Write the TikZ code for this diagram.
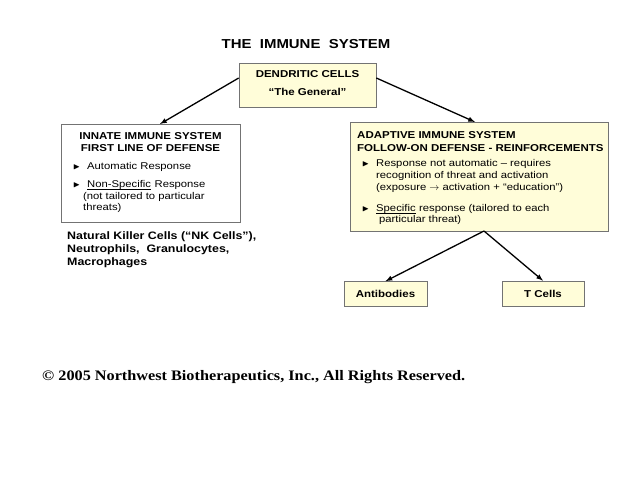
\documentclass[tikz,border=0pt]{standalone}
\usepackage{amssymb}
\usepackage{fontspec}
\setmainfont{Liberation Sans}[FakeStretch=1.15]
\newfontfamily\serifcr{Liberation Serif}[FakeStretch=1.12]
\begin{document}
\begin{tikzpicture}[x=1pt,y=-1pt,
  box/.style={draw=black!55,line width=0.6pt,inner sep=0pt},
  yel/.style={box,fill=yellow!15},
  hd/.style={font=\fontsize{10}{12}\selectfont\bfseries,inner sep=0pt,anchor=base west},
  tx/.style={font=\fontsize{9.8}{12}\selectfont,inner sep=0pt,anchor=base west},
  nk/.style={font=\fontsize{10.8}{12}\selectfont\bfseries,inner sep=0pt,anchor=base west},
  bul/.style={font=\fontsize{9}{10}\selectfont,inner sep=0pt,anchor=base west},
  ul/.style={line width=0.5pt},
  arr/.style={-latex,line width=1.3pt}]
\useasboundingbox (0,0) rectangle (638,478);
\node[font=\fontsize{13}{14}\selectfont\bfseries] (title) at (306,44) {THE\ \ IMMUNE\ \ SYSTEM};
% Dendritic
\node[yel,minimum width=137,minimum height=44] (dc) at (307.5,85) {};
\node[hd,anchor=center] (dct) at (307.5,74) {DENDRITIC CELLS};
\node[hd,anchor=center] (dcs) at (307.5,92) {``The General''};
% Innate
\node[box,fill=white,minimum width=179,minimum height=98] (inn) at (150.5,173) {};
\node[hd,anchor=base] (innt1) at (150.5,140) {INNATE IMMUNE SYSTEM};
\node[hd,anchor=base] (innt2) at (150.5,152) {FIRST LINE OF DEFENSE};
\node[bul] (b1) at (73,169.5) {$\blacktriangleright$};
\node[tx] (inn1) at (87,169.5) {Automatic Response};
\node[bul] (b2) at (73,187.5) {$\blacktriangleright$};
\node[tx] (ns) at (87,187.5) {Non-Specific};
\node[tx,anchor=base west] (inn2) at (ns.base east) {\ Response};
\draw[ul] ([yshift=-1.6pt]ns.base west) -- ([yshift=-1.6pt]ns.base east);
\node[tx] (inn3) at (83,199.5) {(not tailored to particular};
\node[tx] (inn4) at (83,211) {threats)};
\node[nk] (nk1) at (67,239.5) {Natural Killer Cells (``NK Cells''),};
\node[nk] (nk2) at (67,252.5) {Neutrophils,\ \ Granulocytes,};
\node[nk] (nk3) at (67,265.5) {Macrophages};
% Adaptive
\node[yel,minimum width=258,minimum height=109] (ad) at (479,176.5) {};
\node[hd] (adt1) at (357,139) {ADAPTIVE IMMUNE SYSTEM};
\node[hd] (adt2) at (357,152) {FOLLOW-ON DEFENSE - REINFORCEMENTS};
\node[bul] (b3) at (362,166.5) {$\blacktriangleright$};
\node[tx] (ad1) at (376,166.5) {Response not automatic -- requires};
\node[tx] (ad2) at (376,178.5) {recognition of threat and activation};
\node[tx] (ad3) at (376,190.5) {(exposure $\rightarrow$ activation + ``education'')};
\node[bul] (b4) at (362,211.5) {$\blacktriangleright$};
\node[tx] (sp) at (376,211.5) {Specific};
\node[tx,anchor=base west] (ad4) at (sp.base east) {\ response (tailored to each};
\draw[ul] ([yshift=-1.6pt]sp.base west) -- ([yshift=-1.6pt]sp.base east);
\node[tx] (ad5) at (379,222.5) {particular threat)};
% Leaves
\node[yel,minimum width=83,minimum height=25,hd,anchor=center] (ab) at (385.5,294) {Antibodies};
\node[yel,minimum width=82,minimum height=25,hd,anchor=center] (tc) at (543,293.5) {T Cells};
\coordinate (adb) at (484,231);
\draw[arr] (dc.west|-0,78) -- (160,124);
\draw[arr] (dc.east|-0,78) -- (475,122);
\draw[arr] (adb) -- (ab.north);
\draw[arr] (adb) -- (tc.north);
\node[anchor=west,inner sep=0pt,font=\serifcr\fontsize{14.5}{16}\selectfont\bfseries] (cr) at (42,377) {\textcopyright\ 2005 Northwest Biotherapeutics, Inc., All Rights Reserved.};
\end{tikzpicture}
\end{document}
